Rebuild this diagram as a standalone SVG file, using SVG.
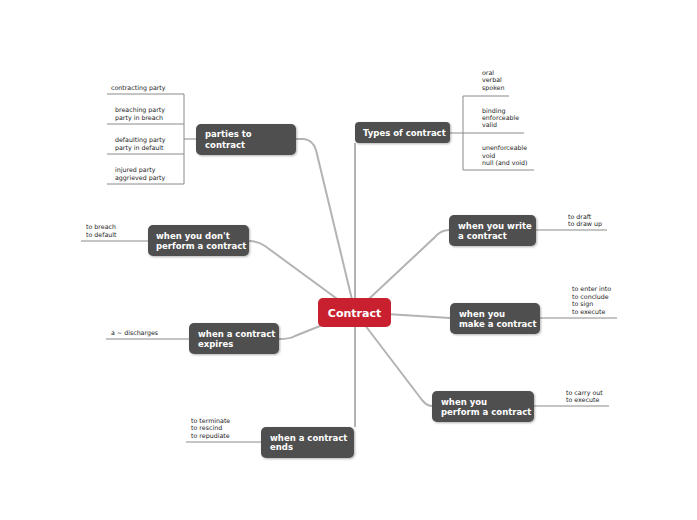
<svg xmlns="http://www.w3.org/2000/svg" width="697" height="520" viewBox="0 0 697 520">
<style>
.n{fill:#4f4f4f;filter:drop-shadow(1px 1px 1px rgba(0,0,0,0.3))}
.t{font-family:"DejaVu Sans",Verdana,sans-serif;font-weight:bold;font-size:8.5px;fill:#fff}
.l{font-family:"DejaVu Sans",Verdana,sans-serif;font-size:6.3px;fill:#222}
.c{fill:none;stroke:#b3b3b3;stroke-width:2}
.b{fill:none;stroke:#8a8a8a;stroke-width:1}
</style>
<rect width="697" height="520" fill="#fff"/>
<g id="connectors">
<path class="c" d="M355,312 L316,150 Q313,140 304,139 L296,139"/>
<path class="c" d="M355,312 L355,143"/>
<path class="c" d="M355,312 L435,237 Q441,230 449,230"/>
<path class="c" d="M355,312 L265,246 Q258,241 249,241"/>
<path class="c" d="M355,312 L295,336 Q290,339 279,339"/>
<path class="c" d="M355,312 L450,318"/>
<path class="c" d="M355,312 L422,400 Q427,406 432,406"/>
<path class="c" d="M355,312 L355,427"/>
<path class="b" d="M184,94 V184 M107,94 H184 M107,124 H184 M107,154 H184 M107,184 H184 M184,139 H196"/>
<path class="b" d="M463,96 V170 M463,96 H509 M463,133 H524 M463,170 H534 M450,133 H463"/>
<path class="b" d="M536,230 H607 M81,241 H148 M106,339 H189 M540,318 H617 M534,406 H609 M186,442 H261"/>
</g>
<g id="contract"><rect x="318" y="298" width="73" height="29" rx="5" fill="#c8202f"/><text x="354.5" y="317" text-anchor="middle" class="t" style="font-size:11px">Contract</text></g>
<g id="parties"><rect class="n" x="196" y="124" width="100" height="31" rx="5"/><text class="t" x="205" y="137">parties to</text><text class="t" x="205" y="148">contract</text>
<text class="l" x="111" y="90">contracting party</text><text class="l" x="115" y="112">breaching party</text><text class="l" x="115" y="120">party in breach</text><text class="l" x="115" y="142">defaulting party</text><text class="l" x="115" y="150">party in default</text><text class="l" x="115" y="172">injured party</text><text class="l" x="115" y="180">aggrieved party</text></g>
<g id="types"><rect class="n" x="355" y="122" width="95" height="21" rx="4"/><text class="t" x="363" y="136">Types of contract</text>
<text class="l" x="482" y="75">oral</text><text class="l" x="482" y="82">verbal</text><text class="l" x="482" y="90">spoken</text><text class="l" x="482" y="113">binding</text><text class="l" x="482" y="120">enforceable</text><text class="l" x="482" y="127">valid</text><text class="l" x="482" y="150">unenforceable</text><text class="l" x="482" y="158">void</text><text class="l" x="482" y="165">null (and void)</text></g>
<g id="write"><rect class="n" x="449" y="215" width="87" height="31" rx="5"/><text class="t" x="458" y="229">when you write</text><text class="t" x="458" y="239">a contract</text><text class="l" x="568" y="219">to draft</text><text class="l" x="568" y="226">to draw up</text></g>
<g id="dont"><rect class="n" x="148" y="225" width="101" height="31" rx="5"/><text class="t" x="156" y="239">when you don't</text><text class="t" x="156" y="249">perform a contract</text><text class="l" x="86" y="229">to breach</text><text class="l" x="86" y="237">to default</text></g>
<g id="expires"><rect class="n" x="189" y="323" width="90" height="31" rx="5"/><text class="t" x="198" y="337">when a contract</text><text class="t" x="198" y="347">expires</text><text class="l" x="111" y="335">a ~ discharges</text></g>
<g id="make"><rect class="n" x="450" y="303" width="90" height="31" rx="5"/><text class="t" x="459" y="317">when you</text><text class="t" x="459" y="327">make a contract</text><text class="l" x="572" y="291">to enter into</text><text class="l" x="572" y="299">to conclude</text><text class="l" x="572" y="306">to sign</text><text class="l" x="572" y="314">to execute</text></g>
<g id="perform"><rect class="n" x="432" y="391" width="102" height="31" rx="5"/><text class="t" x="441" y="405">when you</text><text class="t" x="441" y="415">perform a contract</text><text class="l" x="566" y="395">to carry out</text><text class="l" x="566" y="402">to execute</text></g>
<g id="ends"><rect class="n" x="261" y="427" width="93" height="31" rx="5"/><text class="t" x="270" y="441">when a contract</text><text class="t" x="270" y="450">ends</text><text class="l" x="191" y="423">to terminate</text><text class="l" x="191" y="430">to rescind</text><text class="l" x="191" y="438">to repudiate</text></g>
</svg>
